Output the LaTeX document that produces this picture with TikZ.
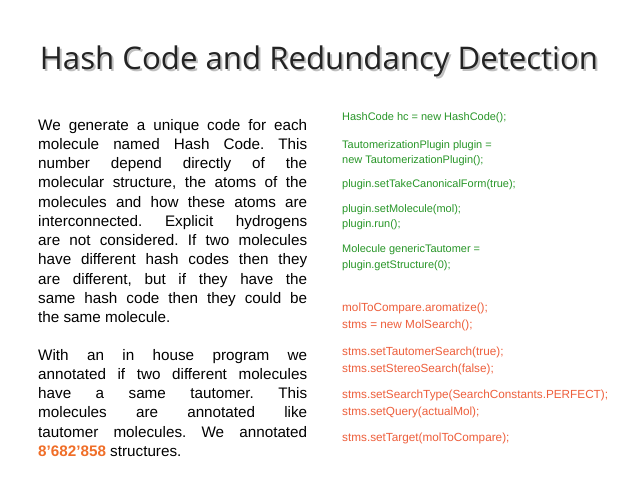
\documentclass[tikz,border=0pt]{standalone}
\usepackage{fontspec}
\setmainfont{Liberation Sans}
\newfontfamily\titlefont{Open Sans}
\definecolor{codegreen}{RGB}{40,150,40}
\definecolor{codered}{RGB}{238,95,60}
\definecolor{titlegray}{RGB}{35,35,35}
\definecolor{orangebold}{RGB}{240,110,40}
\begin{document}
\begin{tikzpicture}[x=1bp,y=-1bp,
  green/.style={anchor=base west,inner sep=0,text=codegreen,font=\fontsize{11}{13}\selectfont},
  red/.style={anchor=base west,inner sep=0,text=codered,font=\fontsize{11.8}{14}\selectfont},
  body/.style={anchor=north west,inner sep=0,text width=269bp,align=justify,font=\fontsize{15.3}{19.3}\selectfont\frenchspacing}]
\useasboundingbox[fill=white] (0,0) rectangle (638,478);
\node[anchor=center,inner sep=0,text=gray!50] (tshadow) at (321,63) {\resizebox{558bp}{!}{\titlefont\fontsize{34}{40}\selectfont Hash Code and Redundancy Detection}};
\node[anchor=center,inner sep=0,text=titlegray] (title) at (319,61) {\resizebox{558bp}{!}{\titlefont\fontsize{34}{40}\selectfont Hash Code and Redundancy Detection}};
\node[body] (p1) at (38,119) {We generate a unique code for each\linebreak molecule named Hash Code. This\linebreak number depend directly of the\linebreak molecular structure, the atoms of the\linebreak molecules and how these atoms are\linebreak interconnected. Explicit hydrogens\linebreak are not considered. If two molecules\linebreak have different hash codes then they\linebreak are different, but if they have the\linebreak same hash code then they could be\linebreak the same molecule.};
\node[body] (p2) at (38,349) {With an in house program we\linebreak annotated if two different molecules\linebreak have a same tautomer. This\linebreak molecules are annotated like\linebreak tautomer molecules. We annotated\linebreak {\color{orangebold}\bfseries 8’682’858} structures.};
\node[green] (g1) at (342,121) {HashCode hc = new HashCode();};
\node[green] (g2) at (342,149) {TautomerizationPlugin plugin =};
\node[green] (g3) at (342,164) {new TautomerizationPlugin();};
\node[green] (g4) at (342,188) {plugin.setTakeCanonicalForm(true);};
\node[green] (g5) at (342,213) {plugin.setMolecule(mol);};
\node[green] (g6) at (342,228) {plugin.run();};
\node[green] (g7) at (342,253) {Molecule genericTautomer =};
\node[green] (g8) at (342,268) {plugin.getStructure(0);};
\node[red] (r1) at (342,311) {molToCompare.aromatize();};
\node[red] (r2) at (342,328) {stms = new MolSearch();};
\node[red] (r3) at (342,355) {stms.setTautomerSearch(true);};
\node[red] (r4) at (342,372) {stms.setStereoSearch(false);};
\node[red] (r5) at (342,398) {stms.setSearchType(SearchConstants.PERFECT);};
\node[red] (r6) at (342,415) {stms.setQuery(actualMol);};
\node[red] (r7) at (342,441) {stms.setTarget(molToCompare);};
\end{tikzpicture}
\end{document}
